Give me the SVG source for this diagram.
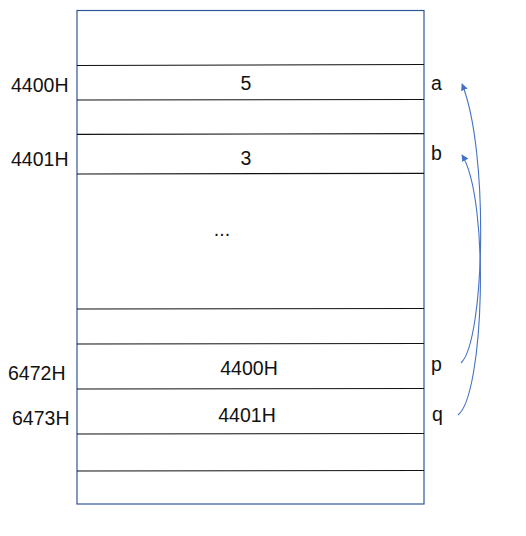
<svg xmlns="http://www.w3.org/2000/svg" width="526" height="536" viewBox="0 0 526 536">
<style>
.t{font-family:"Liberation Sans",Arial,sans-serif;font-size:19.5px;fill:#111}
.m{text-anchor:middle}
.row{stroke:#111;stroke-width:1.2;fill:none}
.con{stroke:#4472C4;stroke-width:1.1;fill:none;marker-end:url(#ah)}
</style>
<defs>
<marker id="ah" viewBox="0 0 10 10" refX="9" refY="5" markerWidth="7" markerHeight="7" orient="auto" markerUnits="userSpaceOnUse">
<path d="M0,0 L10,5 L0,10 z" fill="#4472C4"/>
</marker>
</defs>
<rect width="526" height="536" fill="#fff"/>
<g id="memory">
<rect x="77" y="10.5" width="347" height="493.5" fill="#fff" stroke="#2F5597" stroke-width="1.2"/>
<line class="row" x1="77" y1="65.5" x2="424" y2="64.5"/>
<line class="row" x1="77" y1="100" x2="424" y2="99.5"/>
<line class="row" x1="77" y1="134.3" x2="424" y2="133.7"/>
<line class="row" x1="77" y1="174" x2="424" y2="173.3"/>
<line class="row" x1="77" y1="309" x2="424" y2="308.5"/>
<line class="row" x1="77" y1="344" x2="424" y2="343.5"/>
<line class="row" x1="77" y1="389" x2="424" y2="388.5"/>
<line class="row" x1="77" y1="434" x2="424" y2="433.5"/>
<line class="row" x1="77" y1="471" x2="424" y2="470.5"/>
</g>
<g id="cell-a">
<text class="t" x="11" y="92">4400H</text>
<text class="t m" x="246" y="90">5</text>
<text class="t" x="431" y="90">a</text>
</g>
<g id="cell-b">
<text class="t" x="11" y="166">4401H</text>
<text class="t m" x="246" y="165">3</text>
<text class="t" x="431" y="160">b</text>
</g>
<g id="ellipsis">
<text class="t m" x="222" y="236">...</text>
</g>
<g id="cell-p">
<text class="t" x="8" y="380">6472H</text>
<text class="t m" x="249" y="375">4400H</text>
<text class="t" x="431" y="371">p</text>
</g>
<g id="cell-q">
<text class="t" x="12" y="425">6473H</text>
<text class="t m" x="247" y="422">4401H</text>
<text class="t" x="432" y="421">q</text>
</g>
<g id="connectors">
<path class="con" d="M461,363 C485,340 489,150 462,84"/>
<path class="con" d="M458,415 C484,395 490,200 462,155"/>
</g>
</svg>
